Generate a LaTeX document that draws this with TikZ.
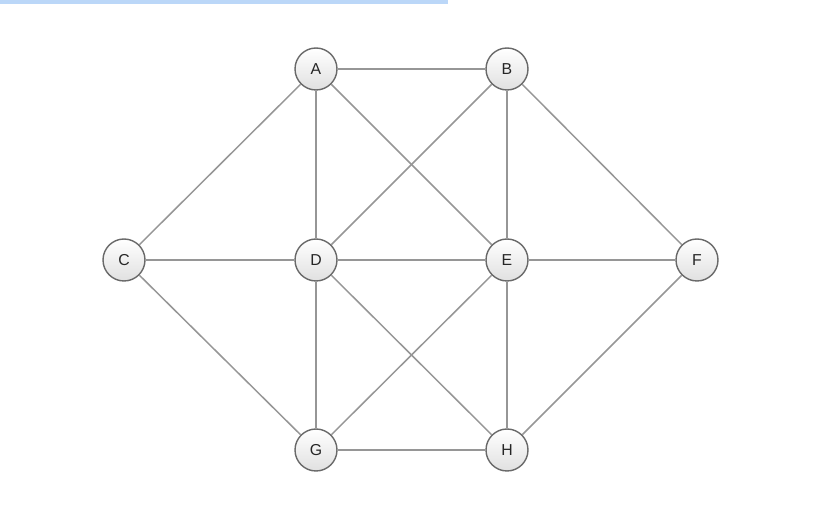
\documentclass[tikz,border=0pt]{standalone}
\usepackage{fontspec}
\setmainfont{Liberation Sans}
\usepackage{tikz}
\definecolor{barblue}{RGB}{187,215,248}
\definecolor{edgegray}{RGB}{150,150,150}
\definecolor{rimgray}{RGB}{105,105,105}
\tikzset{
  vertex/.style={circle, draw=rimgray, line width=0.8pt, minimum size=0.84cm, inner sep=0pt,
    top color=white, bottom color=black!12, font=\small, text=black!85},
  link/.style={draw=edgegray, line width=0.85pt}
}

\begin{document}
\begin{tikzpicture}[x=0.02cm, y=-0.02cm]
    \useasboundingbox (0,0) rectangle (816,520);
    \fill[barblue] (0,0) rectangle (448,4);

    \node[vertex] (A) at (316,69) {A};
    \node[vertex] (B) at (507,69) {B};
    \node[vertex] (C) at (124,260) {C};
    \node[vertex] (D) at (316,260) {D};
    \node[vertex] (E) at (507,260) {E};
    \node[vertex] (F) at (697,260) {F};
    \node[vertex] (G) at (316,450) {G};
    \node[vertex] (H) at (507,450) {H};

    \foreach \u/\v in {A/B, A/C, A/D, A/E, B/D, B/E, B/F, C/D, C/G,
                       D/E, D/G, D/H, E/F, E/G, E/H, F/H, G/H}
      \path[link] (\u) -- (\v);
  \end{tikzpicture}
\end{document}
